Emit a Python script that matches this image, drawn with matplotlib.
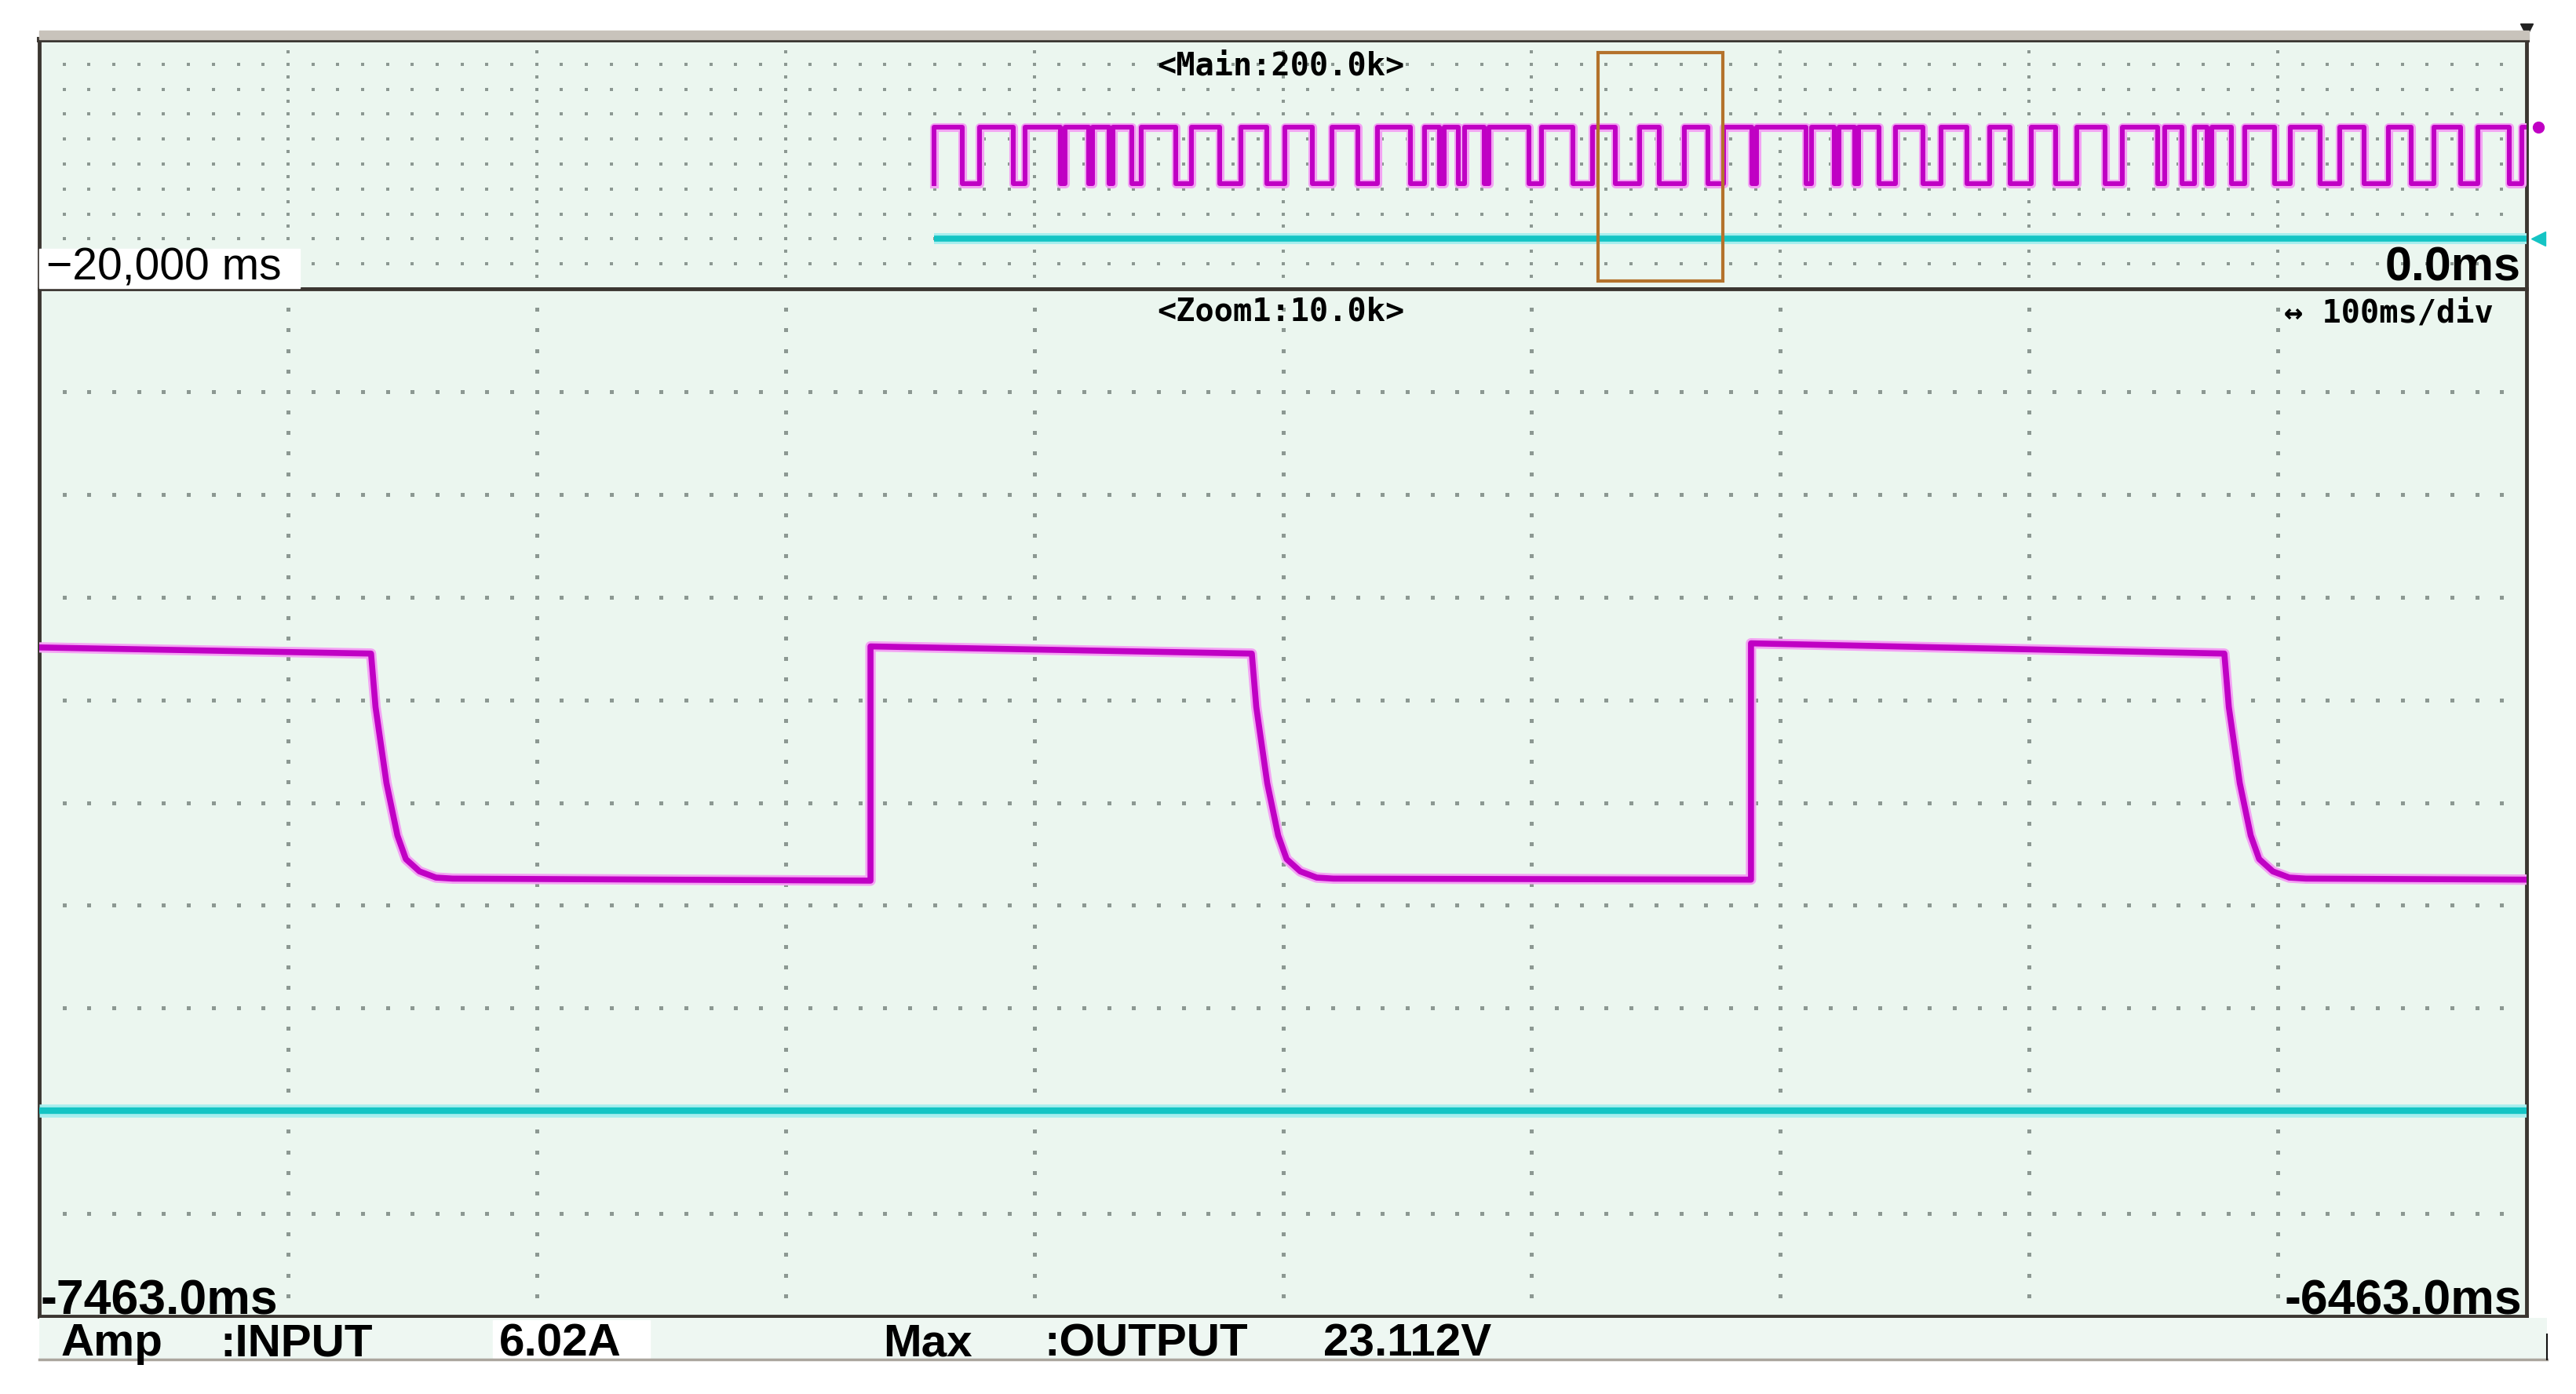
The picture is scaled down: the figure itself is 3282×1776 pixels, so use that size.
import numpy as np
import matplotlib
matplotlib.use('Agg')
import matplotlib.pyplot as plt
from matplotlib.patches import Rectangle
from matplotlib.transforms import offset_copy

W, H = 3282, 1776

# main window: whole 20 s record, times in ms, levels in divisions
main_span = [-20000, 0]
main_start = -12805
main_rise = [-12805, -12438, -12072, -11754, -11531, -11365, -11142, -10734, -10339, -9987,
             -9607, -9241, -8860, -8706, -8541, -8344, -7922, -7513, -7129, -6775,
             -6456, -6189, -5752, -5527, -5371, -5076, -4709, -4315, -3982, -3615,
             -3249, -2911, -2672, -2531, -2263, -1897, -1502, -1108, -742, -390, -38]
main_fall = [-12579, -12171, -11790, -11565, -11396, -11213, -10861, -10509, -10128, -9762,
             -9395, -8973, -8739, -8589, -8380, -8020, -7668, -7330, -6975, -6584,
             -6231, -5794, -5569, -5400, -5208, -4851, -4498, -4151, -3785, -3390,
             -2968, -2770, -2568, -2376, -2024, -1658, -1306, -925, -531, -136]
main_high = 1.48
main_low = -0.78
out_level = -3.0

# zoom window (1 s)
zoom_span = [-7463, -6463]
zoom_fall = [-7329.6, -6975.5, -6584.5]
zoom_rise = [-7128.8, -6774.8]
zoom_high_start = [1.51, 1.52, 1.55]
zoom_low_end = [-0.76, -0.75, -0.75]
# shape of a falling edge
fall_dt = [0, 1.8, 6.2, 10.6, 14.0, 19.5, 26.1, 32.8]
fall_v = [1.45, 0.93, 0.19, -0.32, -0.55, -0.67, -0.73, -0.74]

box_top, box_bottom = 4.45, -4.7

MAG, MAG_HALO = '#c000c4', '#f3a2f3'
CYN, CYN_HALO = '#14c4c4', '#a6eeee'
BG = '#ebf6ef'
FRAME = '#3b3631'
DOT = '#8c9892'
SANS = ['Liberation Sans', 'DejaVu Sans']
MONO = 'DejaVu Sans Mono'


def fx(x):
    return x / W


def fy(y):
    return 1 - y / H


# build traces
edges = sorted([(t, main_high) for t in main_rise] + [(t, main_low) for t in main_fall])
mt, mv = [main_start], [main_low]
for t, lv in edges:
    mt += [t, t]
    mv += [mv[-1], lv]
mt.append(main_span[1])
mv.append(mv[-1])

zt, zv = [zoom_span[0]], [zoom_high_start[0]]
for i, tf in enumerate(zoom_fall):
    zt += [tf + d for d in fall_dt]
    zv += list(fall_v)
    if i < len(zoom_rise):
        zt += [zoom_rise[i], zoom_rise[i]]
        zv += [zoom_low_end[i], zoom_high_start[i + 1]]
zt.append(zoom_span[1])
zv.append(zoom_low_end[-1])


def grid_dots(ax, x0, x1, vsub, hsub, ms):
    xdiv = (x1 - x0) / 10
    xs = x0 + xdiv * np.arange(1, 10)
    ys = np.arange(-4, 5)
    yy = np.arange(-5, 5.0001, 1 / vsub)[1:-1]
    xx = x0 + xdiv / hsub * np.arange(1, 10 * hsub)
    gx, gy = np.meshgrid(xs, yy)
    ax.plot(gx.ravel(), gy.ravel(), 's', ms=ms, color=DOT, mew=0, zorder=1)
    gx, gy = np.meshgrid(xx, ys)
    ax.plot(gx.ravel(), gy.ravel(), 's', ms=ms, color=DOT, mew=0, zorder=1)


def style(ax, span):
    ax.set_xlim(span)
    ax.set_ylim(-5, 5)
    ax.set_facecolor(BG)
    ax.set_xticks([])
    ax.set_yticks([])
    for s in ax.spines.values():
        s.set_color(FRAME)
        s.set_linewidth(3.5)


fig = plt.figure(figsize=(W / 100, H / 100), dpi=100)
fig.patch.set_facecolor('white')

ax_top = fig.add_axes([fx(50), fy(368), (3219 - 50) / W, (368 - 50) / H])
ax_zoom = fig.add_axes([fx(50), fy(1677), (3219 - 50) / W, (1677 - 368) / H])
style(ax_top, main_span)
style(ax_zoom, zoom_span)
ax_top.spines['top'].set_linewidth(5)

grid_dots(ax_top, main_span[0], main_span[1], 2, 10, 3)
grid_dots(ax_zoom, zoom_span[0], zoom_span[1], 5, 10, 3.6)

# main window traces
ax_top.plot([main_start, main_span[1]], [out_level, out_level], color=CYN_HALO, lw=10,
            solid_capstyle='butt', zorder=3)
ax_top.plot([main_start, main_span[1]], [out_level, out_level], color=CYN, lw=5.5,
            solid_capstyle='butt', zorder=4)
ax_top.plot(mt, mv, color=MAG_HALO, lw=8, zorder=5)
ax_top.plot(mt, mv, color=MAG, lw=4.3, zorder=6)
ax_top.add_patch(Rectangle((zoom_span[0], box_bottom), zoom_span[1] - zoom_span[0],
                           box_top - box_bottom, fill=False, edgecolor='#b4722c', lw=3, zorder=7))

# channel markers and trigger mark outside the frame
right = offset_copy(ax_top.transData, fig=fig, x=15, y=0, units='dots')
ax_top.plot(main_span[1], main_high, 'o', ms=10, color=MAG, transform=right, clip_on=False)
ax_top.plot(main_span[1], out_level, '<', ms=13, color=CYN, transform=right, clip_on=False)
above = offset_copy(ax_top.transData, fig=fig, x=0, y=12, units='dots')
ax_top.plot(main_span[1], 5, 'v', ms=12, color='#222222', transform=above, clip_on=False)

# zoom window traces
ax_zoom.plot(zoom_span, [out_level, out_level], color=CYN_HALO, lw=12,
             solid_capstyle='butt', zorder=3)
ax_zoom.plot(zoom_span, [out_level, out_level], color=CYN, lw=6,
             solid_capstyle='butt', zorder=4)
ax_zoom.plot(zt, zv, color=MAG_HALO, lw=9.5, zorder=5)
ax_zoom.plot(zt, zv, color=MAG, lw=5.5, zorder=6)

# frame decorations
fig.add_artist(Rectangle((fx(50), fy(50)), (3222 - 50) / W, 11 / H,
                         transform=fig.transFigure, color='#c8c3bb', zorder=1))
fig.add_artist(Rectangle((fx(50), fy(1732)), (3245 - 50) / W, (1732 - 1679) / H,
                         transform=fig.transFigure, facecolor='#eef7f2',
                         edgecolor='none', zorder=1))
fig.add_artist(Rectangle((fx(628), fy(1730)), 200 / W, 48 / H,
                         transform=fig.transFigure, color='white', zorder=1))
fig.add_artist(plt.Line2D([fx(50), fx(3245)], [fy(1732), fy(1732)], color='#aba69e', lw=2.5))
fig.add_artist(plt.Line2D([fx(3245), fx(3245)], [fy(1700), fy(1732)], color='#111111', lw=1.5))
fig.add_artist(Rectangle((fx(50), fy(367)), (382 - 50) / W, (367 - 317) / H,
                         transform=fig.transFigure, color='white', zorder=2))

# labels
fig.text(fx(1632), fy(84), '<Main:200.0k>', ha='center', va='center',
         family=MONO, weight='bold', size=29)
fig.text(fx(1632), fy(397), '<Zoom1:10.0k>', ha='center', va='center',
         family=MONO, weight='bold', size=29)
fig.text(fx(3177), fy(399), '↔ 100ms/div', ha='right', va='center',
         family=MONO, weight='bold', size=29)
fig.text(fx(59), fy(357), '−20,000 ms', ha='left', va='baseline',
         family=SANS, size=41, zorder=3)
fig.text(fx(3212), fy(370), '0.0ms', ha='right', va='bottom',
         family=SANS, weight='bold', size=44)
fig.text(fx(52), fy(1674), '-7463.0ms', ha='left', va='baseline',
         family=SANS, weight='bold', size=45)
fig.text(fx(3213), fy(1674), '-6463.0ms', ha='right', va='baseline',
         family=SANS, weight='bold', size=45)

status = [('Amp', 78), (':INPUT', 280), ('6.02A', 636),
          ('Max', 1125), (':OUTPUT', 1330), ('23.112V', 1686)]
for s, x in status:
    fig.text(fx(x), fy(1727), s, ha='left', va='baseline',
             family=SANS, weight='bold', size=42, zorder=3)

fig.savefig('out.png', dpi=100)
